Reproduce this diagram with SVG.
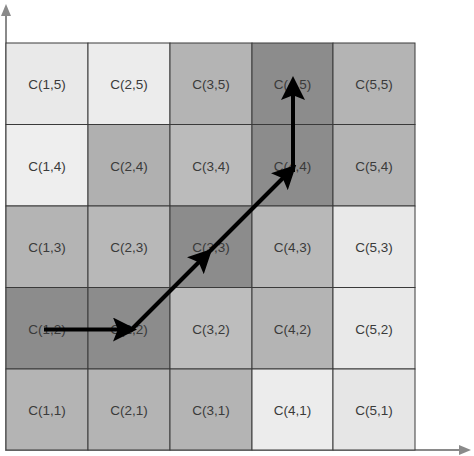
<svg xmlns="http://www.w3.org/2000/svg" width="474" height="456" viewBox="0 0 474 456">
<style>
.cell{stroke:#3a3a3a;stroke-width:1}
.l{fill:#e9e9e9}.m{fill:#b4b4b4}.d{fill:#8c8c8c}
text{font-family:"Liberation Sans",Arial,sans-serif;font-size:13.5px;fill:#3a3a3a;text-anchor:middle}
.ax{stroke:#8a8a8a;stroke-width:2;fill:none}
.ar{stroke:#000;stroke-width:4;fill:none;marker-end:url(#ah)}
</style>
<defs>
<marker id="ah" markerWidth="6" markerHeight="6" refX="4.5" refY="3" orient="auto" markerUnits="strokeWidth" viewBox="0 0 6 6">
<path d="M0,0 L6,3 L0,6 L1.2,3 Z" fill="#000"/>
</marker>
<marker id="gh" markerWidth="6" markerHeight="6" refX="3" refY="3" orient="auto" markerUnits="strokeWidth" viewBox="0 0 6 6">
<path d="M0,0.5 L6,3 L0,5.5 Z" fill="#8a8a8a"/>
</marker>
</defs>
<g id="axes">
<line class="ax" x1="6" y1="451" x2="6" y2="10" marker-end="url(#gh)"/>
<line class="ax" x1="6" y1="450" x2="465" y2="450" marker-end="url(#gh)"/>
</g>
<g id="c15"><rect class="cell l" x="6" y="43" width="82" height="81.5"/><text x="47" y="89">C(1,5)</text></g>
<g id="c25"><rect class="cell l" x="88" y="43" width="82" height="81.5" style="fill:#ececec"/><text x="129" y="89">C(2,5)</text></g>
<g id="c35"><rect class="cell m" x="170" y="43" width="82" height="81.5"/><text x="211" y="89">C(3,5)</text></g>
<g id="c45"><rect class="cell d" x="252" y="43" width="81" height="81.5"/><text x="292.5" y="89">C(4,5)</text></g>
<g id="c55"><rect class="cell m" x="333" y="43" width="82" height="81.5"/><text x="374" y="89">C(5,5)</text></g>

<g id="c14"><rect class="cell l" x="6" y="124.5" width="82" height="81.5" style="fill:#eeeeee"/><text x="47" y="170.5">C(1,4)</text></g>
<g id="c24"><rect class="cell m" x="88" y="124.5" width="82" height="81.5" style="fill:#b0b0b0"/><text x="129" y="170.5">C(2,4)</text></g>
<g id="c34"><rect class="cell m" x="170" y="124.5" width="82" height="81.5" style="fill:#bbbbbb"/><text x="211" y="170.5">C(3,4)</text></g>
<g id="c44"><rect class="cell d" x="252" y="124.5" width="81" height="81.5"/><text x="292.5" y="170.5">C(4,4)</text></g>
<g id="c54"><rect class="cell m" x="333" y="124.5" width="82" height="81.5"/><text x="374" y="170.5">C(5,4)</text></g>

<g id="c13"><rect class="cell m" x="6" y="206" width="82" height="81.5"/><text x="47" y="252">C(1,3)</text></g>
<g id="c23"><rect class="cell m" x="88" y="206" width="82" height="81.5" style="fill:#b8b8b8"/><text x="129" y="252">C(2,3)</text></g>
<g id="c33"><rect class="cell d" x="170" y="206" width="82" height="81.5"/><text x="211" y="252">C(3,3)</text></g>
<g id="c43"><rect class="cell m" x="252" y="206" width="81" height="81.5" style="fill:#b8b8b8"/><text x="292.5" y="252">C(4,3)</text></g>
<g id="c53"><rect class="cell l" x="333" y="206" width="82" height="81.5"/><text x="374" y="252">C(5,3)</text></g>

<g id="c12"><rect class="cell d" x="6" y="287.5" width="82" height="81.5"/><text x="47" y="333.5">C(1,2)</text></g>
<g id="c22"><rect class="cell d" x="88" y="287.5" width="82" height="81.5"/><text x="129" y="333.5">C(2,2)</text></g>
<g id="c32"><rect class="cell m" x="170" y="287.5" width="82" height="81.5" style="fill:#bdbdbd"/><text x="211" y="333.5">C(3,2)</text></g>
<g id="c42"><rect class="cell m" x="252" y="287.5" width="81" height="81.5"/><text x="292.5" y="333.5">C(4,2)</text></g>
<g id="c52"><rect class="cell l" x="333" y="287.5" width="82" height="81.5"/><text x="374" y="333.5">C(5,2)</text></g>

<g id="c11"><rect class="cell m" x="6" y="369" width="82" height="81"/><text x="47" y="415">C(1,1)</text></g>
<g id="c21"><rect class="cell m" x="88" y="369" width="82" height="81"/><text x="129" y="415">C(2,1)</text></g>
<g id="c31"><rect class="cell m" x="170" y="369" width="82" height="81"/><text x="211" y="415">C(3,1)</text></g>
<g id="c41"><rect class="cell l" x="252" y="369" width="81" height="81" style="fill:#ececec"/><text x="292.5" y="415">C(4,1)</text></g>
<g id="c51"><rect class="cell l" x="333" y="369" width="82" height="81" style="fill:#e6e6e6"/><text x="374" y="415">C(5,1)</text></g>

<g id="connectors">
<line class="ar" x1="44" y1="329.5" x2="131" y2="329.5"/>
<line class="ar" x1="130" y1="331" x2="208" y2="253"/>
<line class="ar" x1="206" y1="255" x2="292" y2="169"/>
<line class="ar" x1="293" y1="172" x2="293" y2="82"/>
</g>
</svg>
